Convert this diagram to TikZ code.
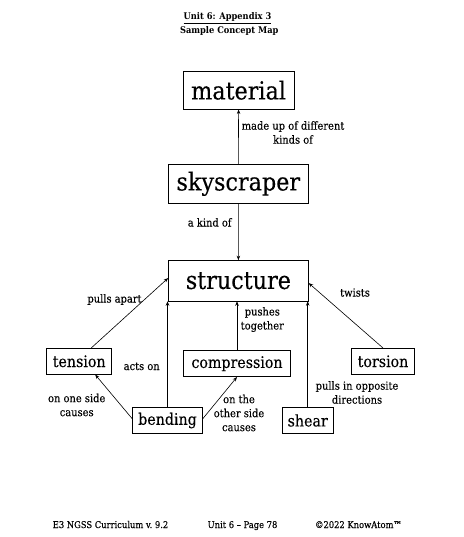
\documentclass[tikz,border=0pt]{standalone}
\usepackage{fontspec}
\setmainfont{DejaVu Serif Condensed}[UprightFeatures={FakeBold=0.22}]
\usetikzlibrary{arrows.meta,calc}
\begin{document}
\begin{tikzpicture}[x=1pt,y=-1pt,
  box/.style={draw,line width=0.6pt,inner sep=0pt,anchor=center},
  bigbox/.style={box,font=\fontsize{24.8}{28}\selectfont},
  smallbox/.style={box,font=\fontsize{15.8}{18}\selectfont,minimum height=26pt},
  lbl/.style={inner sep=0pt,font=\fontsize{11}{14}\selectfont,align=center},
  arr/.style={line width=0.6pt,-{Stealth[length=4.5pt,width=3.5pt]}}]
\useasboundingbox (0,0) rectangle (463,537);
% title
\node[inner sep=0pt,anchor=base,font=\bfseries\fontsize{9.2}{11}\selectfont] (t1) at (227.5,19.5) {\underline{Unit 6: Appendix 3}};
\node[inner sep=0pt,anchor=base,font=\bfseries\fontsize{9.2}{11}\selectfont] (t2) at (229.3,33.5) {Sample Concept Map};
% boxes
\node[bigbox,minimum width=111pt,minimum height=38pt] (mat) at (238.6,90.2) {material};
\node[bigbox,minimum width=140pt,minimum height=39pt] (sky) at (238.3,183.8) {skyscraper};
\node[bigbox,minimum width=140pt,minimum height=40.5pt] (str) at (238.4,280.7) {structure};
\node[smallbox,minimum width=65pt] (ten) at (79.2,361.3) {tension};
\node[smallbox,minimum width=107pt] (com) at (237,363.7) {compression};
\node[smallbox,minimum width=63pt] (tor) at (383,361.3) {torsion};
\node[smallbox,minimum width=70pt] (ben) at (167.5,420.5) {bending};
\node[smallbox,minimum width=51pt] (she) at (307.7,420.5) {shear};
% connectors
\draw[arr] (sky.north) -- (mat.south);
\draw[arr] (sky.south) -- (str.north);
\draw[arr] ([xshift=12pt]ten.north) -- ([yshift=2.6pt]str.west);
\draw[arr] (tor.north) -- ([yshift=-2.4pt]str.east);
\draw[arr] (ben.north) -- (ben.north |- str.south);
\draw[arr] (com.north) -- (com.north |- str.south);
\draw[arr] (she.north) -- (she.north |- str.south);
\draw[arr] ([yshift=1.8pt]ben.west) -- ([xshift=16pt]ten.south);
\draw[arr] ([yshift=1.8pt]ben.east) -- (com.south);
% labels
\node[lbl] (l1) at (293,132.5) {made up of different\\kinds of};
\node[lbl,anchor=base] (l2) at (209.7,226.5) {a kind of};
\node[lbl,anchor=base] (l3) at (114.5,302.5) {pulls apart};
\node[lbl,anchor=base] (l4) at (355,296.5) {twists};
\node[lbl] (l5) at (262.3,319.5) {pushes\\together};
\node[lbl,anchor=base] (l6) at (141.7,370) {acts on};
\node[lbl] (l7) at (76.7,405) {on one side\\causes};
\node[lbl] (l8) at (239,413) {on the\\other side\\causes};
\node[lbl] (l9) at (357,392.5) {pulls in opposite\\directions};
% footer
\node[inner sep=0pt,anchor=base,font=\fontsize{9.3}{11}\selectfont] (f1) at (110.5,528) {E3 NGSS Curriculum v.\ 9.2};
\node[inner sep=0pt,anchor=base,font=\fontsize{9.3}{11}\selectfont] (f2) at (242.5,528) {Unit 6 – Page 78};
\node[inner sep=0pt,anchor=base,font=\fontsize{9.3}{11}\selectfont] (f3) at (358.5,528) {©2022 KnowAtom™};
\end{tikzpicture}
\end{document}
